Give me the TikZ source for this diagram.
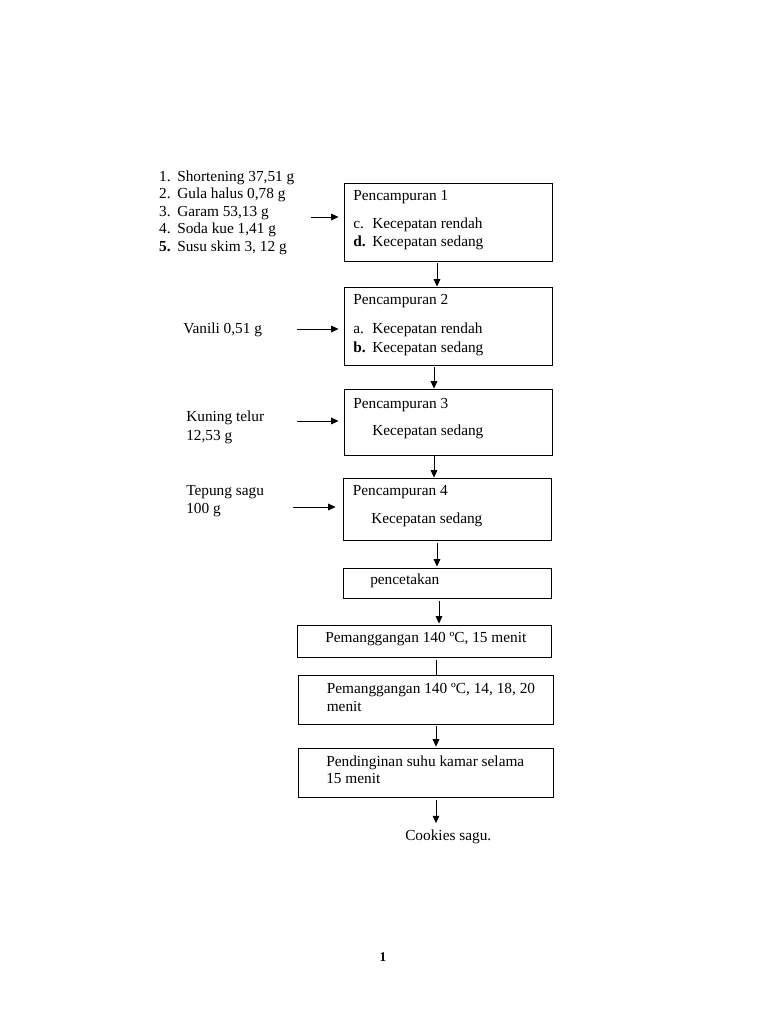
\documentclass[tikz,border=0pt]{standalone}
\usepackage{fontspec}
\setmainfont{Liberation Serif}
\usetikzlibrary{fit,calc,arrows.meta}
\begin{document}
\begin{tikzpicture}[x=0.75pt,y=-0.75pt,
  box/.style={draw,line width=0.7pt,inner sep=0pt},
  txt/.style={anchor=base west,inner sep=0pt,font=\fontsize{11.5}{13}\selectfont},
  num/.style={anchor=base east,inner sep=0pt,font=\fontsize{11.5}{13}\selectfont},
  arr/.style={line width=0.6pt,-{Triangle[length=5.5pt,width=5pt]}},
  ln/.style={line width=0.6pt}]
\useasboundingbox[fill=white] (0,0) rectangle (768,1024);
% boxes
\node[box,fit={(344,183) (552,261)}] (b1) {};
\node[box,fit={(344,287) (552,365)}] (b2) {};
\node[box,fit={(344,389) (552,455)}] (b3) {};
\node[box,fit={(343,478) (551,540)}] (b4) {};
\node[box,fit={(343,568) (551,598)}] (b5) {};
\node[box,fit={(297,625) (551,657)}] (b6) {};
\node[box,fit={(298,675) (553,724)}] (b7) {};
\node[box,fit={(298,748) (553,797)}] (b8) {};
% ingredient list
\node[num] (n1) at (171,181) {1.};
\node[txt] (i1) at (177,181) {Shortening 37,51 g};
\node[num] (n2) at (171,198.5) {2.};
\node[txt] (i2) at (177,198.5) {Gula halus 0,78 g};
\node[num] (n3) at (171,216) {3.};
\node[txt] (i3) at (177,216) {Garam 53,13 g};
\node[num] (n4) at (171,233.5) {4.};
\node[txt] (i4) at (177,233.5) {Soda kue 1,41 g};
\node[num] (n5) at (171,251) {\textbf{5.}};
\node[txt] (i5) at (177,251) {Susu skim 3, 12 g};
\coordinate (l1) at (311,217);
\draw[arr] (l1) -- (l1 -| {$(b1.west)+(-5,0)$});
% box 1 text
\node[txt] (t1) at (353,200) {Pencampuran 1};
\node[txt] (t1c) at (353,228) {c.};
\node[txt] (t1a) at (372,228) {Kecepatan rendah};
\node[txt] (t1d) at (353,246) {\textbf{d.}};
\node[txt] (t1b) at (372,246) {Kecepatan sedang};
% box 2
\node[txt] (t2) at (353,304) {Pencampuran 2};
\node[txt] (t2c) at (353,333) {a.};
\node[txt] (t2a) at (372,333) {Kecepatan rendah};
\node[txt] (t2d) at (353,352) {\textbf{b.}};
\node[txt] (t2b) at (372,352) {Kecepatan sedang};
\node[txt] (v) at (183,333) {Vanili 0,51 g};
\coordinate (l2) at (297,329);
\draw[arr] (l2) -- (l2 -| {$(b2.west)+(-5,0)$});
% box 3
\node[txt] (t3) at (353,408) {Pencampuran 3};
\node[txt] (t3a) at (372,435) {Kecepatan sedang};
\node[txt] (k1) at (186,421.5) {Kuning telur};
\node[txt] (k2) at (186,440) {12,53 g};
\coordinate (l3) at (297,421);
\draw[arr] (l3) -- (l3 -| {$(b3.west)+(-5,0)$});
% box 4
\node[txt] (t4) at (352.5,495) {Pencampuran 4};
\node[txt] (t4a) at (371,523) {Kecepatan sedang};
\node[txt] (s1) at (186,495) {Tepung sagu};
\node[txt] (s2) at (186,513) {100 g};
\coordinate (l4) at (293,507);
\draw[arr] (l4) -- (l4 -| {$(b4.west)+(-7,0)$});
% box 5
\node[txt] (t5) at (370,584) {pencetakan};
% box 6-8
\node[txt] (t6) at (325,642) {Pemanggangan 140 ºC, 15 menit};
\node[txt] (t7) at (326.5,693) {Pemanggangan 140 ºC, 14, 18, 20};
\node[txt] (t7b) at (326.5,711) {menit};
\node[txt] (t8) at (326,766.5) {Pendinginan suhu kamar selama};
\node[txt] (t8b) at (326,783.5) {15 menit};
\node[txt] (ck) at (405,840) {Cookies sagu.};
\node[anchor=base,inner sep=0pt,font=\fontsize{10}{12}\selectfont\bfseries] (pg) at (383,961) {1};
% vertical connectors
\coordinate (a1) at ($(b1.south)+(-11,2)$);
\draw[arr] (a1) -- (a1 |- b2.north);
\coordinate (a2) at ($(b2.south)+(-14,2)$);
\draw[arr] (a2) -- (a2 |- b3.north);
\coordinate (a3) at ($(b3.south)+(-14,1)$);
\draw[arr] (a3) -- (a3 |- b4.north);
\coordinate (a4) at ($(b4.south)+(-10,3)$);
\draw[arr] (a4) -- ($(a4 |- b5.north)+(0,-1)$);
\coordinate (a5) at ($(b5.south)+(-8,3)$);
\draw[arr] (a5) -- ($(a5 |- b6.north)+(0,-1)$);
\coordinate (a6) at ($(b6.south)+(12,3)$);
\draw[ln] (a6) -- (a6 |- b7.north);
\coordinate (a7) at ($(b7.south)+(10.5,2)$);
\draw[arr] (a7) -- ($(a7 |- b8.north)+(0,-1)$);
\coordinate (a8) at ($(b8.south)+(10.5,3)$);
\draw[arr] (a8) -- ($(a8 |- ck.north)+(0,-6)$);
\end{tikzpicture}
\end{document}
